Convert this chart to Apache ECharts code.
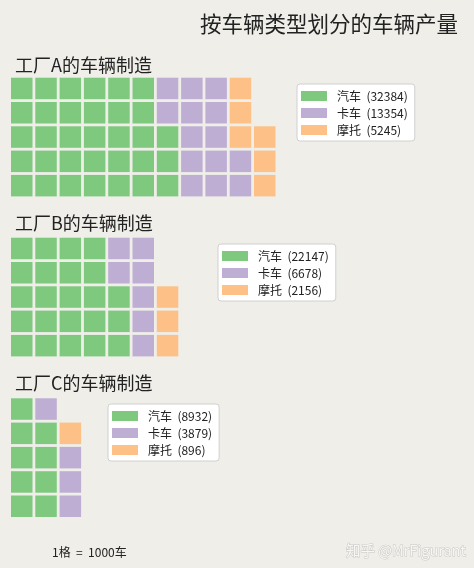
<!DOCTYPE html>
<html>
<head>
    <meta charset="utf-8">
    <title>车辆产量</title>
    <script src="https://cdn.jsdelivr.net/npm/echarts@6/dist/echarts.min.js"></script>
</head>
<style>
    html, body {
        margin: 0;
        background: #efeee9;
    }
    #main {
        width: 474px;
        height: 568px;
    }
</style>
<body>
    <div id="main"></div>
    <script type="text/javascript">
        // 数据
        var types = ['汽车', '卡车', '摩托'];
        var colors = ['#7fc97f', '#beaed4', '#fdc086'];
        var factories = ['工厂A', '工厂B', '工厂C'];
        var factoryA = [32384, 13354, 5245];
        var factoryB = [22147, 6678, 2156];
        var factoryC = [8932, 3879, 896];
        var unit = 1000;   // 1格 = 1000车
        var rows = 5;

        var allValues = [factoryA, factoryB, factoryC];
        var pitch = 24.3, cell = 21.5;
        var gridTops = [76.3, 236.3, 396.9];
        var subTitleTops = [51.5, 209.5, 369.5];
        var legendPos = [[297, 84], [218, 244], [108, 404]];

        var titles = [{
            text: '按车辆类型划分的车辆产量',
            right: 11, top: 8,
            textStyle: {fontSize: 21.5, fontWeight: 'normal', color: '#222'}
        }];
        var grids = [], xAxes = [], yAxes = [], series = [], legends = [];

        for (var f = 0; f < factories.length; f++) {
            var vals = allValues[f];
            // pywaffle 向上取整，按列自下而上填充
            var counts = vals.map(function (v) { return Math.ceil(v / unit); });
            var total = counts.reduce(function (a, b) { return a + b; }, 0);
            var cols = Math.ceil(total / rows);

            titles.push({
                text: factories[f] + '的车辆制造',
                left: 10, top: subTitleTops[f],
                textStyle: {fontSize: 18, fontWeight: 'normal', color: '#222'}
            });
            grids.push({
                left: 9.6, top: gridTops[f],
                width: cols * pitch, height: rows * pitch
            });
            xAxes.push({type: 'value', gridIndex: f, min: -0.5, max: cols - 0.5, show: false});
            yAxes.push({type: 'value', gridIndex: f, min: -0.5, max: rows - 0.5, show: false});

            var idx = 0, names = [];
            for (var t = 0; t < types.length; t++) {
                var pts = [];
                for (var k = 0; k < counts[t]; k++) {
                    pts.push([Math.floor(idx / rows), idx % rows]);
                    idx++;
                }
                var name = types[t] + '  (' + vals[t] + ')';
                names.push(name);
                series.push({
                    type: 'scatter',
                    name: name,
                    xAxisIndex: f, yAxisIndex: f,
                    symbol: 'rect',
                    symbolSize: cell,
                    itemStyle: {color: colors[t], opacity: 1},
                    emphasis: {disabled: true},
                    data: pts
                });
            }
            legends.push({
                data: names,
                orient: 'vertical',
                left: legendPos[f][0], top: legendPos[f][1],
                icon: 'rect',
                itemWidth: 26, itemHeight: 10, itemGap: 5,
                padding: [6, 7, 5, 4],
                backgroundColor: '#ffffff',
                borderColor: '#d0d0d0', borderWidth: 1, borderRadius: 3,
                textStyle: {fontSize: 12, color: '#222', padding: [0, 0, 0, 5]}
            });
        }

        titles.push({
            text: '1格  =  1000车',
            left: 47, top: 541,
            textStyle: {fontSize: 12, fontWeight: 'normal', color: '#222'}
        });
        titles.push({
            text: '知乎 @MrFigurant',
            left: 341, top: 538,
            textStyle: {
                fontSize: 14.5, fontWeight: 'normal', color: '#f7f7f5',
                textBorderColor: '#c9c8c4', textBorderWidth: 1
            }
        });

        var option = {
            backgroundColor: '#efeee9',
            textStyle: {fontFamily: '"Noto Sans CJK SC", "Noto Sans", sans-serif'},
            animation: false,
            title: titles,
            grid: grids,
            xAxis: xAxes,
            yAxis: yAxes,
            legend: legends,
            series: series
        };
        var myChart = echarts.init(document.getElementById('main'));
        myChart.setOption(option);
    </script>
</body>
</html>
